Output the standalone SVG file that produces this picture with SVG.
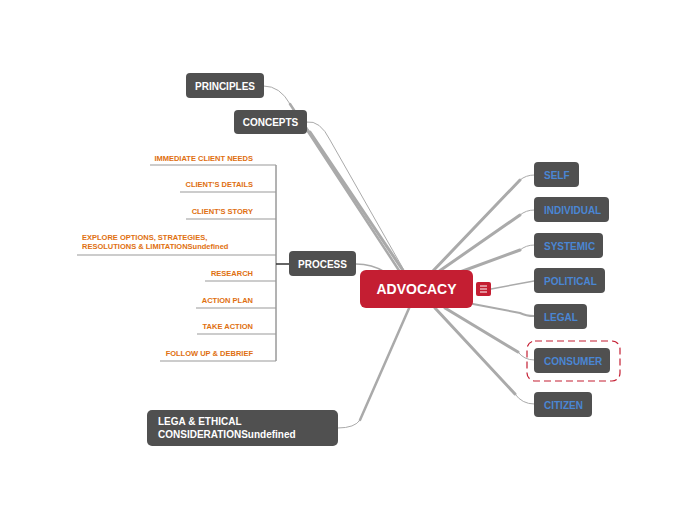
<svg xmlns="http://www.w3.org/2000/svg" width="697" height="520" viewBox="0 0 697 520">
<style>
.n{fill:#505050;}
.t{font-family:"Liberation Sans",Arial,sans-serif;font-weight:bold;font-size:10px;fill:#fff;}
.b{font-family:"Liberation Sans",Arial,sans-serif;font-weight:bold;font-size:10px;fill:#4a86d4;}
.o{font-family:"Liberation Sans",Arial,sans-serif;font-weight:bold;font-size:7.5px;fill:#e07010;text-anchor:end;}
.c{fill:none;stroke:#aaa;stroke-linecap:round;}
.u{stroke:#999;stroke-width:1;}
</style>
<rect width="697" height="520" fill="#fff"/>
<g id="connectors">
<path class="c" stroke-width="3" d="M404 272 L310 132"/>
<path class="c" stroke-width="1" d="M310 132 Q300 118 307 122"/>
<path class="c" stroke-width="2.5" d="M400 272 L290 104"/>
<path class="c" stroke-width="1" d="M290 104 Q280 86 264 86"/>
<path class="c" stroke-width="1" d="M307 122 Q320 120 330 140 L405 272"/>
<path class="c" stroke-width="1.5" d="M356 264 Q372 264 385 272"/>
<path class="c" stroke-width="2.5" d="M410 306 L360 420"/>
<path class="c" stroke-width="1" d="M360 420 Q355 428 338 428"/>
<path class="c" stroke-width="3" d="M432 272 L520 180"/>
<path class="c" stroke-width="1" d="M520 180 Q526 175 534 175"/>
<path class="c" stroke-width="3" d="M438 272 L520 215"/>
<path class="c" stroke-width="1" d="M520 215 Q526 210 534 210"/>
<path class="c" stroke-width="3" d="M460 272 L520 250"/>
<path class="c" stroke-width="1" d="M520 250 Q526 245 534 245"/>
<path class="c" stroke-width="1.5" d="M491 289 L534 281"/>
<path class="c" stroke-width="2" d="M473 304 L520 313 Q526 316 534 316"/>
<path class="c" stroke-width="3" d="M445 308 L518 352"/>
<path class="c" stroke-width="1" d="M518 352 Q524 360 534 360"/>
<path class="c" stroke-width="3" d="M435 308 L515 394"/>
<path class="c" stroke-width="1" d="M515 394 Q522 404 534 404"/>
<line x1="276" y1="165" x2="276" y2="361" stroke="#666" stroke-width="1"/>
<line x1="276" y1="264" x2="289" y2="264" stroke="#333" stroke-width="1.5"/>
</g>
<g id="process-items">
<line class="u" x1="150" y1="165" x2="276" y2="165"/><text class="o" x="253" y="161">IMMEDIATE CLIENT NEEDS</text>
<line class="u" x1="180" y1="192" x2="276" y2="192"/><text class="o" x="253" y="187">CLIENT'S DETAILS</text>
<line class="u" x1="186" y1="219" x2="276" y2="219"/><text class="o" x="253" y="214">CLIENT'S STORY</text>
<line class="u" x1="77" y1="255" x2="276" y2="255"/><text class="o" x="82" y="240" text-anchor="start" style="text-anchor:start">EXPLORE OPTIONS, STRATEGIES,</text><text class="o" x="82" y="249" style="text-anchor:start">RESOLUTIONS &amp; LIMITATIONSundefined</text>
<line class="u" x1="205" y1="281" x2="276" y2="281"/><text class="o" x="253" y="276">RESEARCH</text>
<line class="u" x1="196" y1="308" x2="276" y2="308"/><text class="o" x="253" y="303">ACTION PLAN</text>
<line class="u" x1="197" y1="334" x2="276" y2="334"/><text class="o" x="253" y="329">TAKE ACTION</text>
<line class="u" x1="160" y1="361" x2="276" y2="361"/><text class="o" x="253" y="356">FOLLOW UP &amp; DEBRIEF</text>
</g>
<g id="advocacy">
<rect x="360" y="270" width="113" height="38" rx="6" fill="#c41e32"/>
<text x="416.5" y="294" font-family="Liberation Sans,Arial,sans-serif" font-weight="bold" font-size="14" fill="#fff" text-anchor="middle">ADVOCACY</text>
<rect x="476" y="282" width="15" height="14" rx="2" fill="#c41e32"/>
<path d="M480 286h7M480 289h7M480 292h7" stroke="#fff" stroke-width="1"/>
</g>
<g id="principles"><rect class="n" x="186" y="73" width="78" height="25" rx="4"/><text class="t" x="225" y="89.5" text-anchor="middle">PRINCIPLES</text></g>
<g id="concepts"><rect class="n" x="234" y="110" width="73" height="24" rx="4"/><text class="t" x="270.5" y="126" text-anchor="middle">CONCEPTS</text></g>
<g id="process"><rect class="n" x="289" y="251" width="67" height="25" rx="4"/><text class="t" x="322.5" y="267.5" text-anchor="middle">PROCESS</text></g>
<g id="lega"><rect class="n" x="147" y="410" width="191" height="36" rx="5"/><text class="t" x="158" y="425">LEGA &amp; ETHICAL</text><text class="t" x="158" y="438">CONSIDERATIONSundefined</text></g>
<g id="self"><rect class="n" x="534" y="162" width="45" height="25" rx="4"/><text class="b" x="544" y="178.5">SELF</text></g>
<g id="individual"><rect class="n" x="534" y="197" width="75" height="25" rx="4"/><text class="b" x="544" y="213.5">INDIVIDUAL</text></g>
<g id="systemic"><rect class="n" x="534" y="233" width="69" height="25" rx="4"/><text class="b" x="544" y="249.5">SYSTEMIC</text></g>
<g id="political"><rect class="n" x="534" y="268" width="71" height="25" rx="4"/><text class="b" x="544" y="284.5">POLITICAL</text></g>
<g id="legal"><rect class="n" x="534" y="304" width="53" height="25" rx="4"/><text class="b" x="544" y="320.5">LEGAL</text></g>
<g id="consumer"><rect x="527" y="341" width="93" height="40" rx="8" fill="none" stroke="#c41e32" stroke-width="1.2" stroke-dasharray="7,4"/><rect class="n" x="534" y="348" width="76" height="25" rx="4"/><text class="b" x="544" y="364.5">CONSUMER</text></g>
<g id="citizen"><rect class="n" x="534" y="392" width="58" height="25" rx="4"/><text class="b" x="544" y="408.5">CITIZEN</text></g>
</svg>
